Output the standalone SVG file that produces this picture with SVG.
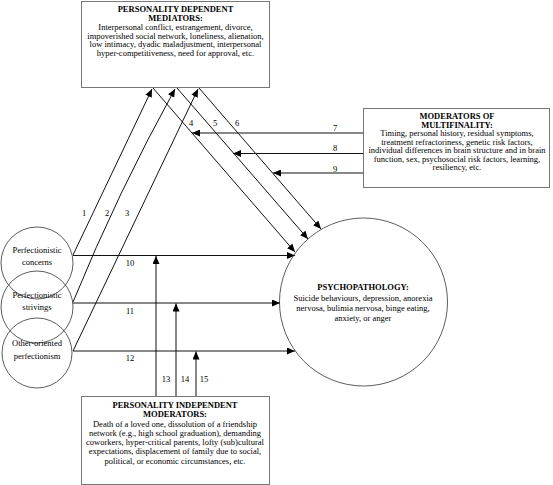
<svg xmlns="http://www.w3.org/2000/svg" width="553" height="485" viewBox="0 0 553 485">
<style>
  text { font-family: "Liberation Serif", "Times New Roman", serif; font-size: 8.5px; fill: #000; }
  .t { font-weight: bold; }
  .c { text-anchor: middle; }
  .box { fill: #fff; stroke: #777; stroke-width: 1; }
  .circ { fill: none; stroke: #333; stroke-width: 0.8; }
  .ln { fill: none; stroke: #111; stroke-width: 1; }
  .lbl { text-anchor: middle; }
</style>
<defs>
  <marker id="ah" markerUnits="userSpaceOnUse" markerWidth="9" markerHeight="7" refX="8" refY="3.5" orient="auto">
    <path d="M0,0 L8,3.5 L0,7 z" fill="#000"/>
  </marker>
</defs>
<rect width="553" height="485" fill="#fff"/>

<g id="connectors">
  <!-- 1,2,3 traits to mediators -->
  <path class="ln" d="M73,255 L152,89" marker-end="url(#ah)"/>
  <path class="ln" d="M73,302 Q118,192 175,89" marker-end="url(#ah)"/>
  <path class="ln" d="M73,351 L198,89" marker-end="url(#ah)"/>
  <!-- 4,5,6 mediators to psychopathology -->
  <path class="ln" d="M153,88 L295,252" marker-end="url(#ah)"/>
  <path class="ln" d="M177,88 L308,239" marker-end="url(#ah)"/>
  <path class="ln" d="M199,88 L321,229" marker-end="url(#ah)"/>
  <!-- 7,8,9 multifinality -->
  <path class="ln" d="M364,133 L192,133" marker-end="url(#ah)"/>
  <path class="ln" d="M364,153.5 L233,153.5" marker-end="url(#ah)"/>
  <path class="ln" d="M364,173 L273,173" marker-end="url(#ah)"/>
  <!-- 10,11,12 direct -->
  <path class="ln" d="M73,255.5 L295,255.5" marker-end="url(#ah)"/>
  <path class="ln" d="M73,303 L280,303" marker-end="url(#ah)"/>
  <path class="ln" d="M73,351 L295,351" marker-end="url(#ah)"/>
  <!-- 13,14,15 independent moderators -->
  <path class="ln" d="M156,396 L156,256" marker-end="url(#ah)"/>
  <path class="ln" d="M176,396 L176,303.5" marker-end="url(#ah)"/>
  <path class="ln" d="M196,396 L196,351.5" marker-end="url(#ah)"/>
  <!-- labels -->
  <text class="lbl" x="84" y="216">1</text>
  <text class="lbl" x="107" y="216">2</text>
  <text class="lbl" x="127" y="216">3</text>
  <text class="lbl" x="191" y="126">4</text>
  <text class="lbl" x="215" y="126">5</text>
  <text class="lbl" x="237" y="126">6</text>
  <text class="lbl" x="335" y="131">7</text>
  <text class="lbl" x="335" y="151">8</text>
  <text class="lbl" x="335" y="172">9</text>
  <text class="lbl" x="130" y="266">10</text>
  <text class="lbl" x="130" y="314">11</text>
  <text class="lbl" x="130" y="361">12</text>
  <text class="lbl" x="166" y="382">13</text>
  <text class="lbl" x="185" y="382">14</text>
  <text class="lbl" x="204" y="382">15</text>
</g>

<g id="mediators">
  <rect class="box" x="81.5" y="1.5" width="188" height="86"/>
  <text class="c t" x="175.5" y="12">PERSONALITY DEPENDENT</text>
  <text class="c t" x="175.5" y="21">MEDIATORS:</text>
  <text class="c" x="175.5" y="30">Interpersonal conflict, estrangement, divorce,</text>
  <text class="c" x="175.5" y="38.5">impoverished social network, loneliness, alienation,</text>
  <text class="c" x="175.5" y="47">low intimacy, dyadic maladjustment, interpersonal</text>
  <text class="c" x="175.5" y="55.5">hyper-competitiveness, need for approval, etc.</text>
</g>

<g id="multifinality">
  <rect class="box" x="363.5" y="108.5" width="186" height="79"/>
  <text class="c t" x="457" y="119">MODERATORS OF</text>
  <text class="c t" x="457" y="127.5">MULTIFINALITY:</text>
  <text class="c" x="457" y="136">Timing, personal history, residual symptoms,</text>
  <text class="c" x="457" y="144.5">treatment refractoriness, genetic risk factors,</text>
  <text class="c" x="457" y="153">individual differences in brain structure and in brain</text>
  <text class="c" x="457" y="161.5">function, sex, psychosocial risk factors, learning,</text>
  <text class="c" x="457" y="170">resiliency, etc.</text>
</g>

<g id="concerns">
  <circle class="circ" cx="37" cy="263" r="36"/>
  <text class="c" x="37" y="253">Perfectionistic</text>
  <text class="c" x="37" y="265">concerns</text>
</g>
<g id="strivings">
  <circle class="circ" cx="37" cy="307" r="36"/>
  <text class="c" x="37" y="298">Perfectionistic</text>
  <text class="c" x="37" y="310">strivings</text>
</g>
<g id="other-oriented">
  <circle class="circ" cx="37" cy="353" r="35"/>
  <text class="c" x="37" y="346">Other-oriented</text>
  <text class="c" x="37" y="359">perfectionism</text>
</g>

<g id="psychopathology">
  <circle class="circ" cx="363.5" cy="302" r="84"/>
  <text class="c t" x="363" y="290">PSYCHOPATHOLOGY:</text>
  <text class="c" x="363" y="300.5">Suicide behaviours, depression, anorexia</text>
  <text class="c" x="363" y="310.5">nervosa, bulimia nervosa, binge eating,</text>
  <text class="c" x="363" y="320.5">anxiety, or anger</text>
</g>

<g id="independent-moderators">
  <rect class="box" x="81.5" y="396.5" width="188" height="88"/>
  <text class="c t" x="175" y="408">PERSONALITY INDEPENDENT</text>
  <text class="c t" x="175" y="417">MODERATORS:</text>
  <text class="c" x="175" y="427">Death of a loved one, dissolution of a friendship</text>
  <text class="c" x="175" y="436">network (e.g., high school graduation), demanding</text>
  <text class="c" x="175" y="445">coworkers, hyper-critical parents, lofty (sub)cultural</text>
  <text class="c" x="175" y="454">expectations, displacement of family due to social,</text>
  <text class="c" x="175" y="464">political, or economic circumstances, etc.</text>
</g>
</svg>
